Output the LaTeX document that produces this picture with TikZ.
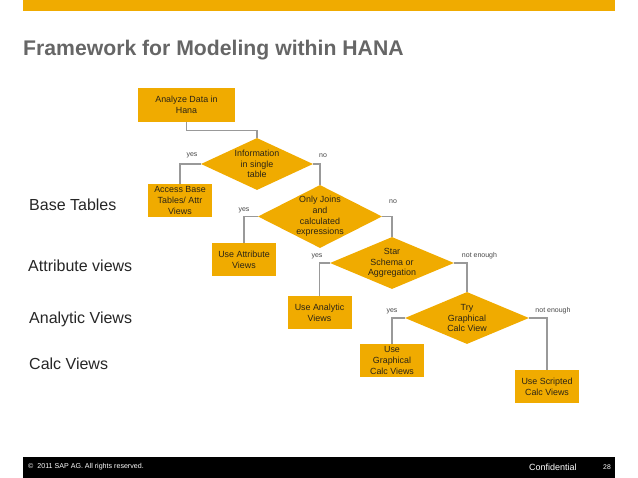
\documentclass[tikz,border=0pt]{standalone}
\usepackage{fontspec}
\setmainfont{Liberation Sans}
\usetikzlibrary{
    shapes.geometric
}
\definecolor{sapgold}{HTML}{F0AB00}
\definecolor{sapgrey}{HTML}{666666}
\definecolor{linkgrey}{HTML}{999999}
\definecolor{inkdark}{HTML}{2B2416}
\tikzset{
    actbox/.style={rectangle,fill=sapgold,inner sep=0pt,align=center,text=inkdark,
        font=\fontsize{8.9}{10.7}\selectfont,minimum width=64pt,minimum height=33pt},
    askdiamond/.style={diamond,fill=sapgold,inner xsep=-24pt,inner ysep=-14pt,align=center,
        text=inkdark,font=\fontsize{8.9}{10.7}\selectfont},
    link/.style={draw=linkgrey,line width=1.1pt},
    answer/.style={inner sep=0pt,text=sapgrey!70!black,font=\fontsize{7}{9}\selectfont},
    layer/.style={anchor=west,inner sep=0pt,text=black!85,font=\fontsize{16}{20}\selectfont}
}
\begin{document}
\begin{tikzpicture}[x=1pt,y=-1pt]
    \useasboundingbox (0,0) rectangle (638,478);
    % page furniture
    \fill[sapgold] (23,0) rectangle (615,11);
    \fill[black] (23,457) rectangle (615,478);
    \node[anchor=west,inner sep=0pt,text=sapgrey,font=\fontsize{21.2}{24}\selectfont\bfseries] (title) at (23,50) {Framework for Modeling within HANA};
    \node[anchor=west,inner sep=0pt,text=white,font=\fontsize{7.1}{8}\selectfont] (copyright) at (28,467) {©\ \ 2011 SAP AG. All rights reserved.};
    \node[anchor=west,inner sep=0pt,text=white,font=\fontsize{9}{10}\selectfont] (confidential) at (529,467) {Confidential};
    \node[anchor=east,inner sep=0pt,text=white,font=\fontsize{6.8}{8}\selectfont] (pageno) at (611,467) {28};

    % left column
    \node[layer] (basetables) at (29,205) {Base Tables};
    \node[layer] (attrviews) at (28,266) {Attribute views};
    \node[layer] (analyticviews) at (29,319) {Analytic Views};
    \node[layer] (calcviews) at (29,364) {Calc Views};

    % boxes
    \node[actbox,minimum width=97pt,minimum height=34pt] (analyze) at (186.5,105) {Analyze Data in\\Hana};
    \node[actbox] (access) at (180,200.5) {Access Base\\Tables/ Attr\\Views};
    \node[actbox] (useattr) at (244,260) {Use Attribute\\Views};
    \node[actbox] (useanalytic) at (319.5,313) {Use Analytic\\Views};
    \node[actbox] (usegraph) at (392,360.5) {Use\\Graphical\\Calc Views};
    \node[actbox] (usescript) at (547,387) {Use Scripted\\Calc Views};

    % decisions
    \node[askdiamond,minimum width=112pt,minimum height=52pt] (info) at (257,164) {Information\\in single\\table};
    \node[askdiamond,minimum width=124pt,minimum height=63pt] (joins) at (320,216.5) {Only Joins\\and\\calculated\\expressions};
    \node[askdiamond,minimum width=124pt,minimum height=52pt] (star) at (392,263) {Star\\Schema or\\Aggregation};
    \node[askdiamond,minimum width=124pt,minimum height=52pt] (try) at (467,318) {Try\\Graphical\\Calc View};

    % connectors
    \draw[link] (analyze.south) -- ++(0,8) -| (info.north);
    \draw[link] (info.west) -| (access.north);
    \draw[link] (info.east) -| (joins.north);
    \draw[link] (joins.west) -| (useattr.north);
    \draw[link] (joins.east) -| (star.north);
    \draw[link] (star.west) -| (useanalytic.north);
    \draw[link] (star.east) -| (try.north);
    \draw[link] (try.west) -| (usegraph.north);
    \draw[link] (try.east) -| (usescript.north);

    % answers
    \node[answer] (infoyes) at (192,155.5) {yes};
    \node[answer] (infono) at (323,155.5) {no};
    \node[answer] (joinsyes) at (244,210) {yes};
    \node[answer] (joinsno) at (393,202) {no};
    \node[answer] (staryes) at (317,256) {yes};
    \node[answer] (starmore) at (479.5,256) {not enough};
    \node[answer] (tryyes) at (392,311) {yes};
    \node[answer] (trymore) at (553,311) {not enough};
\end{tikzpicture}
\end{document}
